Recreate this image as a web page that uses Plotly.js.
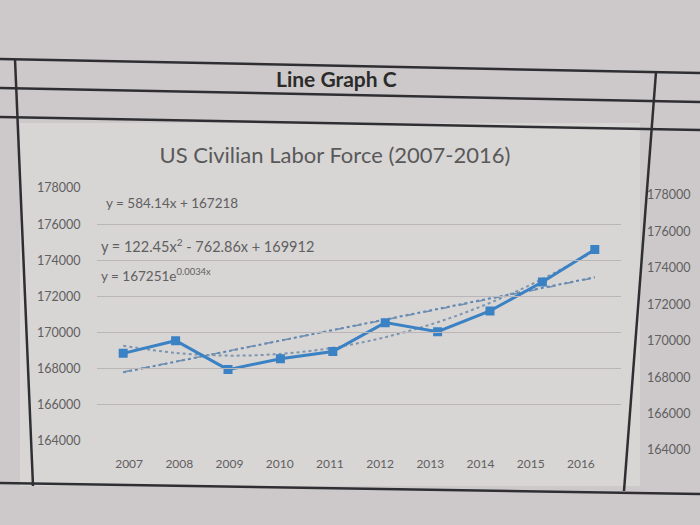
<!DOCTYPE html>
<html>
<head>
<meta charset="utf-8">
<script src="https://cdn.plot.ly/plotly-3.0.1.min.js"></script>
<style>html,body{margin:0;padding:0;background:#cdc9ca;}#chart{width:700px;height:525px;}</style>
</head>
<body>
<div id="chart"></div>
<script>
// ---- data ----
const years = [2007, 2008, 2009, 2010, 2011, 2012, 2013, 2014, 2015, 2016];
const laborForce = [168850, 169550, 167950, 168550, 168950, 170550, 170050, 171200, 172800, 174600];
const yTicks = [164000, 166000, 168000, 170000, 172000, 174000, 176000, 178000];
const linearCoef = [584.14, 167218];            // y = a x + b
const polyCoef = [122.45, -762.86, 169912];     // y = a x^2 + b x + c
const expCoef = [167251, 0.0034];               // y = a e^(b x)
const eqLinear = 'y = 584.14x + 167218';
const eqPoly = 'y = 122.45x<sup>2</sup> - 762.86x + 169912';
const eqExp = 'y = 167251e<sup>0.0034x</sup>';
const chartTitle = 'US Civilian Labor Force (2007-2016)';
const sheetTitle = 'Line Graph C';

// trendlines evaluated from the displayed equations (Excel x = 1..n)
const idx = years.map((_, i) => i + 1);
const linTrend = idx.map(x => linearCoef[0] * x + linearCoef[1]);
const polyTrend = idx.map(x => polyCoef[0] * x * x + polyCoef[1] * x + polyCoef[2]);
const expTrend = idx.map(x => expCoef[0] * Math.exp(expCoef[1] * x));

// ---- geometry helpers ----
const W = 700, H = 525, L = 20, R = 5, T = 180, B = 70;
const PW = W - L - R, PH = H - T - B;
const px = x => (x - L) / PW;
const py = y => (H - B - y) / PH;

const yMin = 164000, yMax = 178000, pad = 30;
// main axis: 178000 gridline at 188px, 164000 at 441px (slightly padded so edge gridlines show)
const ppu = (441 - 188) / (yMax - yMin);
const mainDom = [py(441 + pad * ppu), py(188 - pad * ppu)];

const blue = '#3a82c4';
const txt = '#606060';
const frame = '#2f2f33';

const ghost = (xa, ya) => ({x: years, y: laborForce, type: 'scatter', mode: 'lines', xaxis: xa, yaxis: ya, line: {width: 0}, opacity: 0, hoverinfo: 'skip', showlegend: false});

const traces = [
  {x: years, y: linTrend, type: 'scatter', mode: 'lines', line: {color: '#5b86b3', width: 2, dash: 'dot'}, hoverinfo: 'skip', showlegend: false},
  {x: years, y: expTrend, type: 'scatter', mode: 'lines', line: {color: '#6f8fb0', width: 1.5, dash: 'dash'}, hoverinfo: 'skip', showlegend: false},
  {x: years, y: polyTrend, type: 'scatter', mode: 'lines', line: {color: '#7d96b0', width: 2, dash: 'dot', shape: 'spline'}, hoverinfo: 'skip', showlegend: false},
  {x: years, y: laborForce, type: 'scatter', mode: 'lines+markers', line: {color: blue, width: 3}, marker: {symbol: 'square', size: 9, color: blue}, showlegend: false},
  ghost('x', 'y2'),
  ghost('x', 'y3'),
  ghost('x2', 'y')
];

const line = (x0, y0, x1, y1, w) => ({type: 'line', xref: 'paper', yref: 'paper', x0: px(x0), y0: py(y0), x1: px(x1), y1: py(y1), line: {color: frame, width: w || 2.5}, layer: 'above'});

const yBase = {tickvals: yTicks, ticktext: yTicks.map(String), zeroline: false, showline: false,
               tickfont: {size: 12.5, color: txt}};

const layout = {
  width: W, height: H,
  paper_bgcolor: '#cdc9ca',
  plot_bgcolor: 'rgba(0,0,0,0)',
  margin: {l: L, r: R, t: T, b: B},
  font: {family: 'Lato, "Open Sans", sans-serif', color: txt},
  title: {text: chartTitle, xref: 'paper', x: px(335), xanchor: 'center', yref: 'container', y: 1 - 155 / H, yanchor: 'middle',
          font: {family: 'Lato, "Open Sans", sans-serif', size: 22, color: '#595959'}},
  xaxis: {domain: [px(97), px(621)], range: [2006.5, 2016.5], showticklabels: false, showgrid: false, zeroline: false, showline: false, anchor: 'y'},
  xaxis2: {domain: [px(104), px(606)], range: [2006.5, 2016.5], tickvals: years, ticktext: years.map(String),
           showgrid: false, zeroline: false, showline: false, ticks: 'outside', ticklen: 11, tickcolor: 'rgba(0,0,0,0)',
           tickfont: {size: 12, color: txt}, anchor: 'y'},
  yaxis: Object.assign({}, yBase, {domain: mainDom, range: [yMin - pad, yMax + pad], showticklabels: false, showgrid: true, gridcolor: '#bab5b6', gridwidth: 1, anchor: 'x'}),
  yaxis3: Object.assign({}, yBase, {domain: mainDom, range: [yMin - pad, yMax + pad], anchor: 'free', position: px(36), side: 'right', showgrid: false}),
  yaxis2: Object.assign({}, yBase, {domain: [py(450), py(195)], range: [yMin, yMax], anchor: 'free', position: px(646), side: 'right', showgrid: false}),
  shapes: [
    {type: 'rect', xref: 'paper', yref: 'paper', x0: px(20), y0: py(486), x1: px(640), y1: py(123), fillcolor: '#d8d5d5', line: {width: 0}, layer: 'below'},
    line(0, 59, 700, 73),
    line(0, 88, 700, 102),
    line(0, 117, 700, 130),
    line(0, 483, 700, 494),
    line(15, 59, 33, 486),
    line(656, 72, 624, 491)
  ],
  annotations: [
    {text: sheetTitle, xref: 'paper', yref: 'paper', x: px(336), y: py(78), showarrow: false, xanchor: 'center', yanchor: 'middle',
     font: {family: 'Lato, sans-serif', size: 21, color: '#2b2b2b', weight: 'bold'}},
    {text: eqLinear, xref: 'paper', yref: 'paper', x: px(104), y: py(203), showarrow: false, xanchor: 'left', yanchor: 'middle', font: {size: 13.5, color: txt}},
    {text: eqPoly, xref: 'paper', yref: 'paper', x: px(99), y: py(245), showarrow: false, xanchor: 'left', yanchor: 'middle', font: {size: 14.5, color: txt}},
    {text: eqExp, xref: 'paper', yref: 'paper', x: px(99), y: py(275), showarrow: false, xanchor: 'left', yanchor: 'middle', font: {size: 13.5, color: txt}}
  ]
};

Plotly.newPlot('chart', traces, layout, {displayModeBar: false, staticPlot: true});
</script>
</body>
</html>
